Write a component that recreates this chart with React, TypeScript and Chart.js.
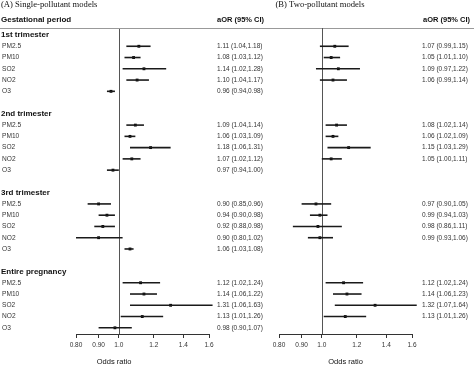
import React, { useEffect, useRef } from "react";
import { Chart, registerables } from "chart.js";
Chart.register(...registerables);

const groups = ["1st trimester", "2nd trimester", "3rd trimester", "Entire pregnancy"];
const pollutants = ["PM2.5", "PM10", "SO2", "NO2", "O3"];
const tickValues = [0.8, 0.9, 1.0, 1.2, 1.4, 1.6];
const tickLabels = ["0.80", "0.90", "1.0", "1.2", "1.4", "1.6"];

const singleOR = [1.11, 1.08, 1.14, 1.10, 0.96, 1.09, 1.06, 1.18, 1.07, 0.97, 0.90, 0.94, 0.92, 0.90, 1.06, 1.12, 1.14, 1.31, 1.13, 0.98];
const singleLo = [1.04, 1.03, 1.02, 1.04, 0.94, 1.04, 1.03, 1.06, 1.02, 0.94, 0.85, 0.90, 0.88, 0.80, 1.03, 1.02, 1.06, 1.06, 1.01, 0.90];
const singleHi = [1.18, 1.12, 1.28, 1.17, 0.98, 1.14, 1.09, 1.31, 1.12, 1.00, 0.96, 0.98, 0.98, 1.02, 1.08, 1.24, 1.22, 1.63, 1.26, 1.07];

const twoOR = [1.07, 1.05, 1.09, 1.06, null, 1.08, 1.06, 1.15, 1.05, null, 0.97, 0.99, 0.98, 0.99, null, 1.12, 1.14, 1.32, 1.13, null];
const twoLo = [0.99, 1.01, 0.97, 0.99, null, 1.02, 1.02, 1.03, 1.00, null, 0.90, 0.94, 0.86, 0.93, null, 1.02, 1.06, 1.07, 1.01, null];
const twoHi = [1.15, 1.10, 1.22, 1.14, null, 1.14, 1.09, 1.29, 1.11, null, 1.05, 1.03, 1.11, 1.06, null, 1.24, 1.23, 1.64, 1.26, null];

const W = 474;
const H = 366;
const SANS = "'Liberation Sans', Arial, sans-serif";
const SERIF = "'Liberation Serif', 'Times New Roman', serif";

const rowOf = (k: number) => 2 + 7 * Math.floor(k / 5) + (k % 5);
const headerRow = (g: number) => 1 + 7 * g;
const fmt = (o: number, l: number, h: number) => `${o.toFixed(2)} (${l.toFixed(2)},${h.toFixed(2)})`;

type PanelSpec = {
  id: "A" | "B";
  title: string;
  titleX: number;
  titleAlign: CanvasTextAlign;
  or: (number | null)[];
  lo: (number | null)[];
  hi: (number | null)[];
  padLeft: number;
  padRight: number;
  valueX: number;
  headX: number;
  showLabels: boolean;
  axisTitleX: ((chart: any) => number);
};

const panels: PanelSpec[] = [
  {
    id: "A",
    title: "(A) Single-pollutant models",
    titleX: 1,
    titleAlign: "left",
    or: singleOR,
    lo: singleLo,
    hi: singleHi,
    padLeft: 76,
    padRight: W - 209,
    valueX: 217,
    headX: 217,
    showLabels: true,
    axisTitleX: (chart) => chart.chartArea.left + 38,
  },
  {
    id: "B",
    title: "(B) Two-pollutant models",
    titleX: 320,
    titleAlign: "center",
    or: twoOR,
    lo: twoLo,
    hi: twoHi,
    padLeft: 279,
    padRight: W - 412,
    valueX: 422,
    headX: 423,
    showLabels: false,
    axisTitleX: (chart) => (chart.chartArea.left + chart.chartArea.right) / 2,
  },
];

function buildConfig(p: PanelSpec): any {
  const bars: any[] = [];
  const pts: any[] = [];
  p.or.forEach((o, k) => {
    if (o == null || p.lo[k] == null || p.hi[k] == null) return;
    bars.push({ x: [p.lo[k], p.hi[k]], y: rowOf(k) });
    pts.push({ x: o, y: rowOf(k) });
  });

  const refLine = {
    id: "refLine" + p.id,
    beforeDatasetsDraw(chart: any) {
      const { ctx, chartArea } = chart;
      const xs = chart.scales.x;
      const px = Math.round(xs.getPixelForValue(1)) + 0.5;
      ctx.save();
      ctx.strokeStyle = "#555";
      ctx.lineWidth = 1;
      ctx.beginPath();
      ctx.moveTo(px, chartArea.top);
      ctx.lineTo(px, chartArea.bottom);
      ctx.stroke();
      ctx.restore();
    },
  };

  const textPlugin = {
    id: "panelText" + p.id,
    afterDraw(chart: any) {
      const { ctx } = chart;
      const ys = chart.scales.y;
      ctx.save();
      ctx.textBaseline = "middle";
      ctx.fillStyle = "#111";
      ctx.font = `8.6px ${SERIF}`;
      ctx.textAlign = p.titleAlign;
      ctx.fillText(p.title, p.titleX, 5);

      const headY = ys.getPixelForValue(-0.33);
      ctx.textAlign = "left";
      if (p.showLabels) {
        ctx.strokeStyle = "#999";
        ctx.lineWidth = 1;
        ctx.beginPath();
        ctx.moveTo(0, chart.chartArea.top + 0.5);
        ctx.lineTo(W, chart.chartArea.top + 0.5);
        ctx.stroke();

        ctx.fillStyle = "#111";
        ctx.font = `bold 8px ${SANS}`;
        ctx.fillText("Gestational period", 1, headY);
        groups.forEach((g, gi) => {
          ctx.fillText(g, 1, ys.getPixelForValue(headerRow(gi)));
        });
        ctx.fillStyle = "#333";
        ctx.font = `6.6px ${SANS}`;
        for (let k = 0; k < groups.length * pollutants.length; k++) {
          ctx.fillText(pollutants[k % 5], 2, ys.getPixelForValue(rowOf(k)));
        }
      }
      ctx.fillStyle = "#111";
      ctx.font = `bold 7.5px ${SANS}`;
      ctx.fillText("aOR (95% CI)", p.headX, headY);

      ctx.fillStyle = "#333";
      ctx.font = `6.5px ${SANS}`;
      p.or.forEach((o, k) => {
        if (o == null) return;
        ctx.fillText(fmt(o, p.lo[k] as number, p.hi[k] as number), p.valueX, ys.getPixelForValue(rowOf(k)));
      });

      ctx.fillStyle = "#111";
      ctx.font = `7.5px ${SANS}`;
      ctx.textAlign = "center";
      ctx.fillText("Odds ratio", p.axisTitleX(chart), 362);
      ctx.restore();
    },
  };

  return {
    type: "scatter",
    data: {
      datasets: [
        {
          type: "bar",
          indexAxis: "y",
          data: bars,
          backgroundColor: "#1a1a1a",
          borderWidth: 0,
          inflateAmount: 0,
          barThickness: 1.6,
          clip: false,
        },
        {
          type: "scatter",
          data: pts,
          pointStyle: "rect",
          pointRadius: 2,
          backgroundColor: "#000",
          borderWidth: 0,
          clip: false,
        },
      ],
    },
    options: {
      animation: false,
      responsive: false,
      devicePixelRatio: 1,
      events: [],
      layout: { padding: { left: p.padLeft, right: p.padRight, top: 28, bottom: 0 } },
      plugins: { legend: { display: false }, tooltip: { enabled: false }, title: { display: false } },
      scales: {
        x: {
          type: "logarithmic",
          min: 0.8,
          max: 1.6,
          offset: false,
          afterBuildTicks: (s: any) => {
            s.ticks = tickValues.map((v) => ({ value: v }));
          },
          afterFit: (s: any) => {
            s.height = 32;
          },
          ticks: {
            autoSkip: false,
            maxRotation: 0,
            minRotation: 0,
            padding: 3,
            color: "#333",
            font: { family: SANS, size: 6.5 },
            callback: (_v: any, i: number) => tickLabels[i],
          },
          grid: { offset: false, drawOnChartArea: false, drawTicks: true, tickLength: 4, tickColor: "#333", tickWidth: 1 },
          border: { display: true, color: "#333", width: 1 },
          title: { display: false },
        },
        y: {
          type: "linear",
          display: false,
          reverse: true,
          offset: false,
          grid: { offset: false },
          min: 0.378,
          max: 27.55,
        },
      },
    },
    plugins: [refLine, textPlugin],
  };
}

function PanelChart({ spec }: { spec: PanelSpec }) {
  const ref = useRef<HTMLCanvasElement>(null);
  useEffect(() => {
    const chart = new Chart(ref.current as HTMLCanvasElement, buildConfig(spec));
    return () => chart.destroy();
  }, [spec]);
  return (
    <canvas
      ref={ref}
      width={W}
      height={H}
      style={{ position: "absolute", left: 0, top: 0, width: W, height: H }}
    />
  );
}

export default function App() {
  return (
    <div style={{ position: "fixed", left: 0, top: 0, width: W, height: H, background: "#fff", overflow: "hidden" }}>
      {panels.map((p) => (
        <PanelChart key={p.id} spec={p} />
      ))}
    </div>
  );
}
